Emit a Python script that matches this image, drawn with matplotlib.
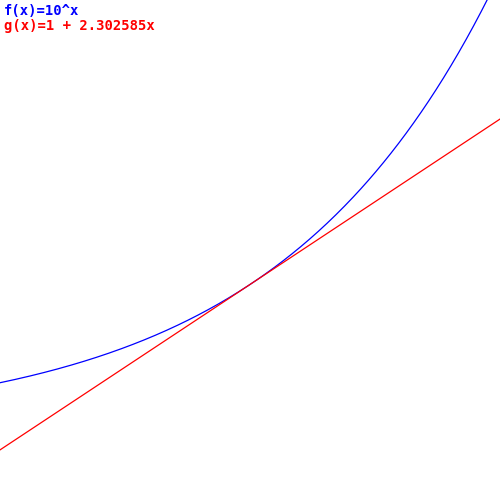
import matplotlib
matplotlib.use("Agg")
import matplotlib.pyplot as plt
import numpy as np

# function plot: f(x)=10^x and its tangent at x=0
X_RANGE = [-0.5, 0.5]
Y_RANGE = [-0.5, 2.98]
SLOPE = 2.302585
LABELS = ["f(x)=10^x", "g(x)=1 + 2.302585x"]
COLORS = ["#0000ff", "#ff0000"]

x = np.linspace(X_RANGE[0], X_RANGE[1], 400)
f = 10 ** x
g = 1 + SLOPE * x

fig = plt.figure(figsize=(5, 5), dpi=100)
ax = fig.add_axes([0, 0, 1, 1])
ax.plot(x, f, color=COLORS[0], linewidth=0.9)
ax.plot(x, g, color=COLORS[1], linewidth=0.9)
ax.set_xlim(X_RANGE)
ax.set_ylim(Y_RANGE)
ax.set_axis_off()

for i, (lbl, c) in enumerate(zip(LABELS, COLORS)):
    fig.text(0.008, 0.992 - i * 0.03, lbl, color=c, ha="left", va="top",
             fontsize=10, family="DejaVu Sans Mono", fontweight="bold")

fig.savefig("out.png", dpi=100)
